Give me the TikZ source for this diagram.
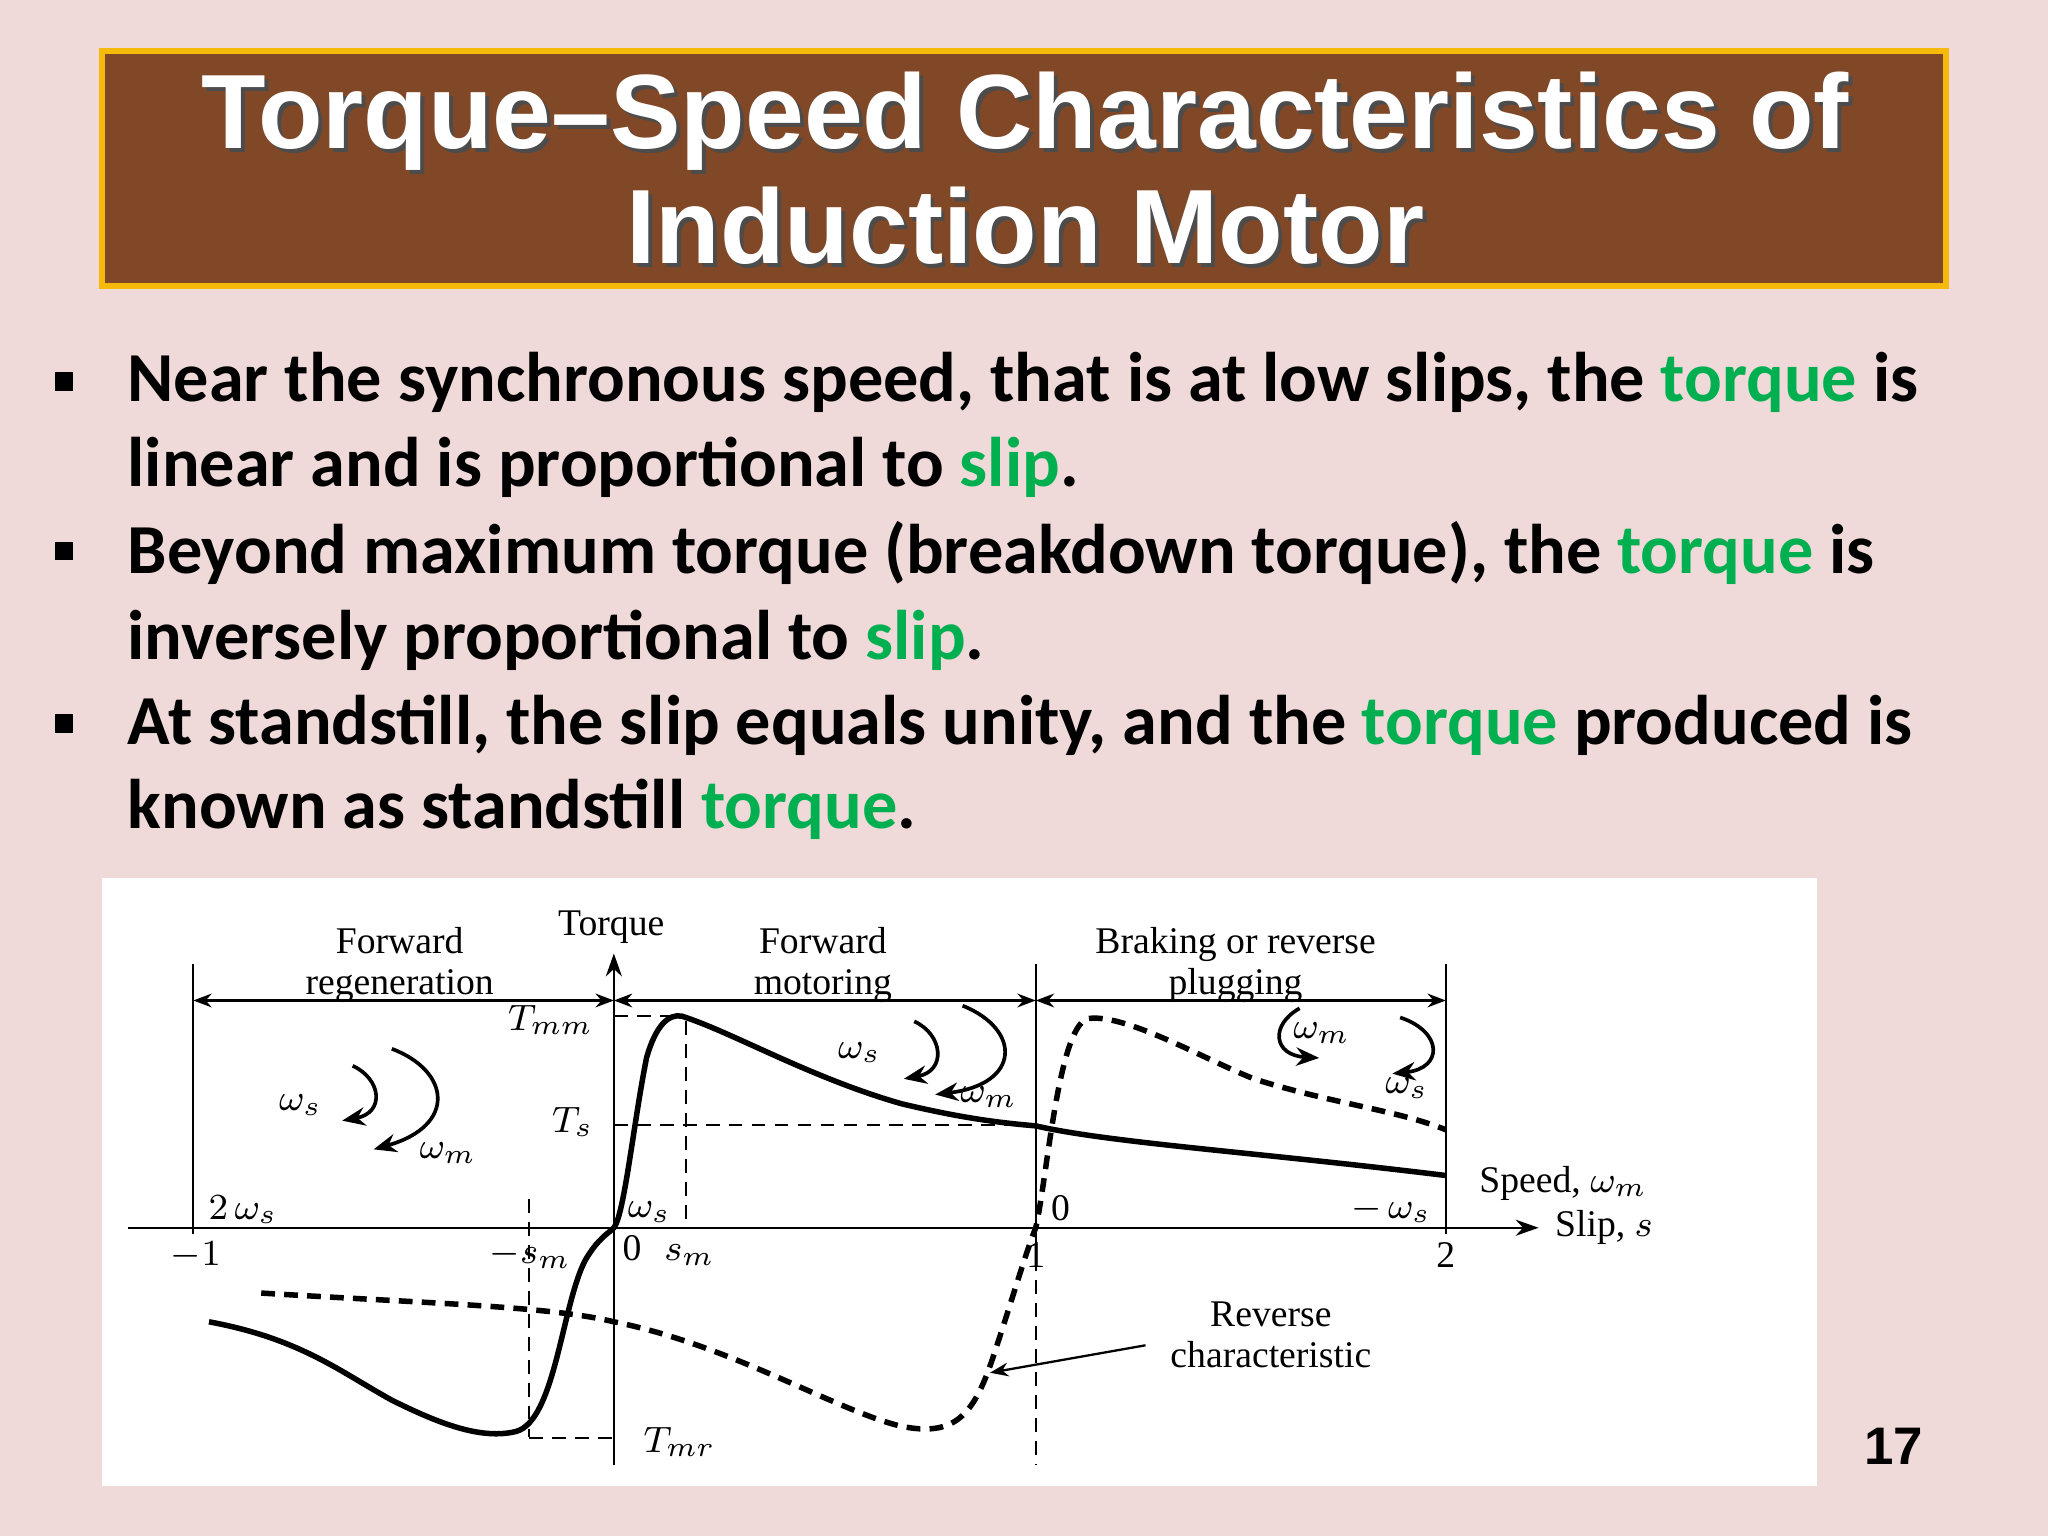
\documentclass[tikz,border=0pt]{standalone}
\usepackage{fontspec}
\setmainfont{Liberation Serif}
\newfontfamily\carl{Carlito}
\newfontfamily\tfont{Liberation Sans}
\usetikzlibrary{arrows.meta}
\definecolor{bgpink}{RGB}{239,217,217}
\definecolor{brownt}{RGB}{128,72,38}
\definecolor{goldb}{RGB}{245,185,10}
\definecolor{grn}{RGB}{0,176,80}
\begin{document}
\begin{tikzpicture}[x=0.01cm,y=-0.01cm,
  lbl/.style={font=\fontsize{8.2}{9}\selectfont,inner sep=0pt,align=center},
  bul/.style={font=\carl\bfseries\fontsize{15.3}{17}\selectfont,anchor=west,inner sep=0pt},
  thin/.style={line width=0.5pt},
  dsh/.style={line width=0.45pt,dash pattern=on 3pt off 2pt},
  curve/.style={line width=1.2pt},
  rcurve/.style={line width=1.2pt,dash pattern=on 3pt off 2pt},
  rot/.style={line width=0.8pt,-{Stealth[length=5pt,width=4pt]}},
  dbl/.style={thin,{Stealth[length=4pt,width=3pt]}-{Stealth[length=4pt,width=3pt]}}]
\fill[bgpink] (0,0) rectangle (1568,1176);
\useasboundingbox (0,0) rectangle (1568,1176);
% title
\draw[goldb,line width=1.3pt,fill=brownt] (78,39) rectangle (1490,219);
\node[text=black!70,font=\tfont\bfseries\fontsize{23}{25}\selectfont,align=center] at (788,132) {Torque–Speed Characteristics of\\Induction Motor};
\node (title)[text=white,font=\tfont\bfseries\fontsize{23}{25}\selectfont,align=center] at (785,129) {Torque–Speed Characteristics of\\Induction Motor};
% bullets
\foreach \yy in {293,423,555}{\fill (42,\yy-8) rectangle (56,\yy+6);}
\node (t1)[bul] at (97,293) {Near the synchronous speed, that is at low slips, the \textcolor{grn}{torque} is};
\node (t2)[bul] at (97,358) {linear and is proportional to \textcolor{grn}{slip}.};
\node (t3)[bul] at (97,423) {Beyond maximum torque (breakdown torque), the \textcolor{grn}{torque} is};
\node (t4)[bul] at (97,490) {inversely proportional to \textcolor{grn}{slip}.};
\node (t5)[bul] at (97,555) {At standstill, the slip equals unity, and the \textcolor{grn}{torque} produced is};
\node (t6)[bul] at (97,620) {known as standstill \textcolor{grn}{torque}.};
\node (pg)[font=\tfont\bfseries\fontsize{11.5}{12}\selectfont] at (1450,1107) {17};
% chart
\fill[white] (78,672) rectangle (1391,1138);
\coordinate (xl) at (98,940); \coordinate (xr) at (1178,940);
\coordinate (yb) at (470,1122); \coordinate (yt) at (470,730);
\draw[thin,-{Stealth[length=5pt,width=3.5pt]}] (xl) -- (xr);
\draw[thin,-{Stealth[length=5pt,width=3.5pt]}] (yb) -- (yt);
\coordinate (v1t) at (148,738); \coordinate (v1b) at (148,945);
\coordinate (v3t) at (793,738); \coordinate (v3m) at (793,945); \coordinate (v3b) at (793,1122);
\coordinate (v4t) at (1107,738); \coordinate (v4b) at (1107,945);
\draw[thin] (v1t)--(v1b); \draw[thin] (v3t)--(v3m); \draw[thin] (v4t)--(v4b);
\draw[dsh] (v3m)--(v3b);
\coordinate (a1) at (148,766); \coordinate (a2) at (470,766); \coordinate (a3) at (793,766); \coordinate (a4) at (1107,766);
\draw[dbl] (a1)--(a2); \draw[dbl] (a2)--(a3); \draw[dbl] (a3)--(a4);
\node (r1)[lbl] at (306,739) {Forward\\regeneration};
\node (r2)[lbl] at (630,739) {Forward\\motoring};
\node (r3)[lbl] at (946,739) {Braking or reverse\\plugging};
\node (tq)[lbl] at (468,710) {Torque};
% dashed guides
\coordinate (tmm0) at (470,778); \coordinate (tmm1) at (520,778);
\draw[dsh] (tmm0)--(tmm1);
\coordinate (sm0) at (525,782); \coordinate (sm1) at (525,940);
\draw[dsh] (sm0)--(sm1);
\coordinate (ts0) at (470,861); \coordinate (ts1) at (793,861);
\draw[dsh] (ts0)--(ts1);
\coordinate (nsm0) at (405,918); \coordinate (nsm1) at (405,1100);
\draw[dsh] (nsm0)--(nsm1);
\coordinate (tmr0) at (405,1101); \coordinate (tmr1) at (470,1101);
\draw[dsh] (tmr0)--(tmr1);
\node (ltmm)[lbl,anchor=east] at (455,781) {$T_{mm}$};
\node (lts)[lbl,anchor=east] at (455,859) {$T_s$};
\node (ltmr)[lbl,anchor=west] at (492,1104) {$T_{mr}$};
% solid curve
\draw[curve] (160,1012) .. controls (230,1025) and (260,1050) .. (300,1072)
  .. controls (340,1092) and (370,1102) .. (395,1096)
  .. controls (425,1088) and (430,1000) .. (448,965)
  .. controls (458,948) and (465,945) .. (470,940)
  .. controls (478,930) and (485,860) .. (495,810)
  .. controls (502,785) and (512,776) .. (522,778)
  .. controls (560,790) and (620,825) .. (690,845)
  .. controls (740,857) and (770,860) .. (793,862)
  .. controls (850,875) and (960,882) .. (1107,900);
% reverse dashed
\draw[rcurve] (200,990) .. controls (330,998) and (420,1000) .. (470,1012)
  .. controls (560,1030) and (640,1080) .. (690,1092)
  .. controls (730,1100) and (745,1085) .. (760,1040)
  .. controls (775,995) and (785,960) .. (793,940)
  .. controls (802,900) and (810,790) .. (832,780)
  .. controls (860,775) and (920,810) .. (960,826)
  .. controls (1020,845) and (1070,850) .. (1107,865);
% reverse label and pointer
\node (rev)[lbl] at (973,1022) {Reverse\\characteristic};
\coordinate (rvp) at (758,1051);
\draw[thin,-{Stealth[length=4pt,width=3pt]}] (877,1030) -- (rvp);
% axis labels
\node (l2ws)[lbl] at (186,926) {$2\,\omega_s$};
\node (lws)[lbl] at (497,928) {$\omega_s$};
\node (l0s)[lbl] at (812,925) {0};
\node (lmws)[lbl] at (1065,926) {$-\,\omega_s$};
\node (lspd)[lbl,anchor=west] at (1132,906) {Speed, $\omega_m$};
\node (lslp)[lbl,anchor=west] at (1190,940) {Slip, $s$};
\node (tm1)[lbl] at (150,961) {$-1$};
\node (tmsm)[lbl] at (406,961) {$-s_m$};
\node (t0)[lbl] at (484,956) {0};
\node (tsm)[lbl] at (528,961) {$s_m$};
\node (t1x)[lbl] at (793,961) {1};
\node (t2x)[lbl] at (1107,961) {2};
% rotation arrows region 1
\draw[rot] (270,816) .. controls (292,826) and (295,852) .. (262,858);
\draw[rot] (300,803) .. controls (345,820) and (350,862) .. (286,880);
\node (w1s)[lbl] at (230,846) {$\omega_s$};
\node (w1m)[lbl] at (343,883) {$\omega_m$};
% region 2
\draw[rot] (700,782) .. controls (722,792) and (725,820) .. (692,826);
\draw[rot] (737,770) .. controls (782,788) and (782,830) .. (716,838);
\node (w2s)[lbl] at (658,806) {$\omega_s$};
\node (w2m)[lbl] at (757,840) {$\omega_m$};
% region 3
\draw[rot] (995,772) .. controls (972,785) and (975,808) .. (1010,810);
\draw[rot] (1072,779) .. controls (1105,790) and (1105,818) .. (1066,822);
\node (w3m)[lbl] at (1012,791) {$\omega_m$};
\node (w3s)[lbl] at (1077,833) {$\omega_s$};
\end{tikzpicture}
\end{document}
